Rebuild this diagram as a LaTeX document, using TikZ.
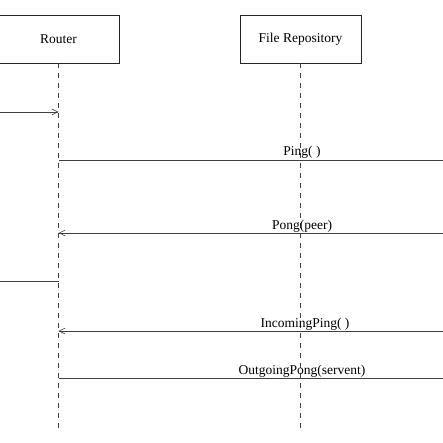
\documentclass[tikz,border=0pt]{standalone}
\usepackage{fontspec}
\setmainfont{Liberation Serif}
\usetikzlibrary{arrows.meta}
\begin{document}
\begin{tikzpicture}[x=1pt,y=-1pt,
  obj/.style={draw=black!85,line width=0.8pt,minimum width=121pt,minimum height=48pt,inner sep=0pt,font=\fontsize{13.5}{16}\selectfont},
  life/.style={draw=black!75,line width=0.6pt,dash pattern=on 5pt off 5pt},
  msg/.style={draw=black!75,line width=0.7pt},
  arr/.style={msg,-{Straight Barb[length=6pt,width=6pt,line width=0.6pt]}},
  lbl/.style={font=\fontsize{13.5}{16}\selectfont,inner sep=1pt,anchor=base}]
\useasboundingbox (0,0) rectangle (443,443);
\node[obj] (router) at (58.5,39) {Router};
\node[obj] (repo) at (300.5,39) {File Repository};
\coordinate (rend) at (58.5,428);
\coordinate (fend) at (300.5,428);
\draw[life] (router.south) -- (rend);
\draw[life] (repo.south) -- (fend);
% message endpoints on Router lifeline
\coordinate (r1) at (58.5,112);
\coordinate (r2) at (58.5,160);
\coordinate (r3) at (58.5,233);
\coordinate (r4) at (58.5,281);
\coordinate (r5) at (58.5,331);
\coordinate (r6) at (58.5,378);
\coordinate (l1) at (-1,112);
\coordinate (l4) at (-1,281);
\coordinate (e2) at (444,160);
\coordinate (e3) at (444,233);
\coordinate (e5) at (444,331);
\coordinate (e6) at (444,378);
\draw[arr] (l1) -- (r1);
\draw[msg] (r2) -- (e2);
\draw[arr] (e3) -- (r3);
\draw[msg] (l4) -- (r4);
\draw[arr] (e5) -- (r5);
\draw[msg] (r6) -- (e6);
\node[lbl] (m2) at (302,156) {Ping( )};
\node[lbl] (m3) at (302,229) {Pong(peer)};
\node[lbl] (m5) at (305,327) {IncomingPing( )};
\node[lbl] (m6) at (302,374) {OutgoingPong(servent)};
\end{tikzpicture}
\end{document}
